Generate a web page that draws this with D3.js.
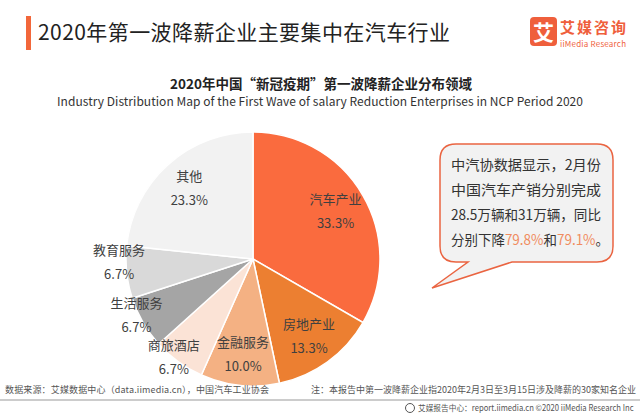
<!DOCTYPE html>
<html>
<head>
<meta charset="utf-8">
<script src="https://d3js.org/d3.v7.min.js"></script>
<style>
  body { margin: 0; background: #fff; }
  text { font-family: "Noto Sans CJK SC", "Noto Sans", sans-serif; }
</style>
<script>
    const w = 640
    const h = 416
    // industries and number of firms (out of 30)
    const industries = ["汽车产业", "房地产业", "金融服务", "商旅酒店", "生活服务", "教育服务", "其他"]
    const firmCounts = [10, 4, 3, 2, 2, 2, 7]
    const shares = ["33.3%", "13.3%", "10.0%", "6.7%", "6.7%", "6.7%", "23.3%"]
    const colors = ["#FA6B3E", "#EC7F31", "#F4B183", "#FBE3D6", "#A5A5A5", "#D9D9D9", "#F2F2F2"]
    const calloutLines = [
        [["中汽协数据显示，2月份", false]],
        [["中国汽车产销分别完成", false]],
        [["28.5万辆和31万辆，同比", false]],
        [["分别下降", false], ["79.8%", true], ["和", false], ["79.1%", true], ["。", false]]
    ]

    function draw() {
        const svg = d3.select("body").append("svg")
            .attr("width", w)
            .attr("height", h)

        // header
        svg.append("rect").attr("x", 26).attr("y", 16).attr("width", 5).attr("height", 34).attr("fill", "#F2673A")
        svg.append("text").attr("x", 38).attr("y", 40)
            .attr("font-size", 21).attr("fill", "#222").attr("textLength", 412)
            .text("2020年第一波降薪企业主要集中在汽车行业")

        // logo
        svg.append("rect").attr("x", 530).attr("y", 17).attr("width", 27).attr("height", 29).attr("rx", 4).attr("fill", "#EF5F3C")
        svg.append("text").attr("x", 543.5).attr("y", 40).attr("text-anchor", "middle")
            .attr("font-size", 21).attr("font-weight", "bold").attr("fill", "#fff").text("艾")
        svg.append("text").attr("x", 560).attr("y", 33).attr("font-size", 15).attr("font-weight", "bold")
            .attr("fill", "#EF5F3C").attr("textLength", 66).text("艾媒咨询")
        svg.append("text").attr("x", 560).attr("y", 47).attr("font-size", 8)
            .attr("fill", "#EF5F3C").attr("textLength", 66).text("iiMedia Research")

        // chart titles
        svg.append("text").attr("x", 321).attr("y", 89).attr("text-anchor", "middle")
            .attr("font-size", 13.5).attr("font-weight", "bold").attr("fill", "#222")
            .text("2020年中国“新冠疫期”第一波降薪企业分布领域")
        svg.append("text").attr("x", 320).attr("y", 106).attr("text-anchor", "middle")
            .attr("font-size", 12).attr("fill", "#333").attr("textLength", 526)
            .text("Industry Distribution Map of the First Wave of salary Reduction Enterprises in NCP Period 2020")

        // pie
        const cx = 253, cy = 259, R = 127
        const total = d3.sum(firmCounts)
        const pie = d3.pie().sort(null).value(d => d.v)
        const arcs = pie(firmCounts.map((v, i) => ({ v, i })))
        const arc = d3.arc().innerRadius(0).outerRadius(R)
        const g = svg.append("g").attr("transform", `translate(${cx},${cy})`)
        g.selectAll("path").data(arcs).join("path")
            .attr("d", arc)
            .attr("fill", d => colors[d.data.i])
            .attr("stroke", "#fff").attr("stroke-width", 1.5)

        // labels: inside for large slices, on the rim (nudged up) for small ones
        const labelPos = d => {
            const small = d.data.v / total < 0.08
            const r = small ? R * 1.06 : R * 0.75
            const a = (d.startAngle + d.endAngle) / 2
            return [r * Math.sin(a), -r * Math.cos(a) - (small ? 11 : 0)]
        }
        const lab = g.selectAll("g.lab").data(arcs).join("g").attr("class", "lab")
            .attr("transform", d => `translate(${labelPos(d)})`)
        lab.append("text").attr("text-anchor", "middle").attr("y", -7)
            .attr("font-size", 13).attr("fill", "#404040")
            .text(d => industries[d.data.i])
        lab.append("text").attr("text-anchor", "middle").attr("y", 17)
            .attr("font-size", 13).attr("fill", "#404040")
            .text(d => shares[d.data.i])

        // callout bubble
        const bx = 440, by = 144, bw = 173, bh = 118, br = 16
        const bubble = `M${bx + br},${by} H${bx + bw - br} Q${bx + bw},${by} ${bx + bw},${by + br}
            V${by + bh - br} Q${bx + bw},${by + bh} ${bx + bw - br},${by + bh}
            H512 L432,288 L468,${by + bh}
            H${bx + br} Q${bx},${by + bh} ${bx},${by + bh - br}
            V${by + br} Q${bx},${by} ${bx + br},${by} Z`
        svg.append("path").attr("d", bubble).attr("fill", "#F2F2F2")
            .attr("stroke", "#EA6441").attr("stroke-width", 1.5)
        const lineWidths = [150, 150, 150, 158]
        calloutLines.forEach((parts, li) => {
            const t = svg.append("text").attr("x", 451).attr("y", 170 + li * 25)
                .attr("font-size", 14).attr("fill", "#333")
                .attr("textLength", lineWidths[li]).attr("lengthAdjust", "spacingAndGlyphs")
            parts.forEach(p => {
                t.append("tspan").attr("fill", p[1] ? "#F08C60" : "#333").text(p[0])
            })
        })

        // footer
        svg.append("text").attr("x", 5).attr("y", 393).attr("font-size", 9).attr("fill", "#555")
            .attr("textLength", 264)
            .text("数据来源：艾媒数据中心（data.iimedia.cn），中国汽车工业协会")
        svg.append("text").attr("x", 636).attr("y", 393).attr("text-anchor", "end").attr("font-size", 9).attr("fill", "#555")
            .text("注：本报告中第一波降薪企业指2020年2月3日至3月15日涉及降薪的30家知名企业")
        svg.append("line").attr("x1", 0).attr("x2", 640).attr("y1", 400).attr("y2", 400)
            .attr("stroke", "#999").attr("stroke-width", 1)
        svg.append("circle").attr("cx", 410).attr("cy", 408).attr("r", 4.5)
            .attr("fill", "none").attr("stroke", "#555").attr("stroke-width", 1)
        // squeeze the credit line horizontally into the space left of the edge
        const credit = svg.append("g")
        const creditText = credit.append("text").attr("font-size", 8.5).attr("fill", "#555")
            .text("艾媒报告中心：report.iimedia.cn  ©2020  iiMedia Research Inc")
        const natural = creditText.node().getComputedTextLength()
        credit.attr("transform", `translate(418,410.5) scale(${Math.min(1, 216 / natural)},1)`)
    }
</script>
</head>
<body onload="draw()">
</body>
</html>
